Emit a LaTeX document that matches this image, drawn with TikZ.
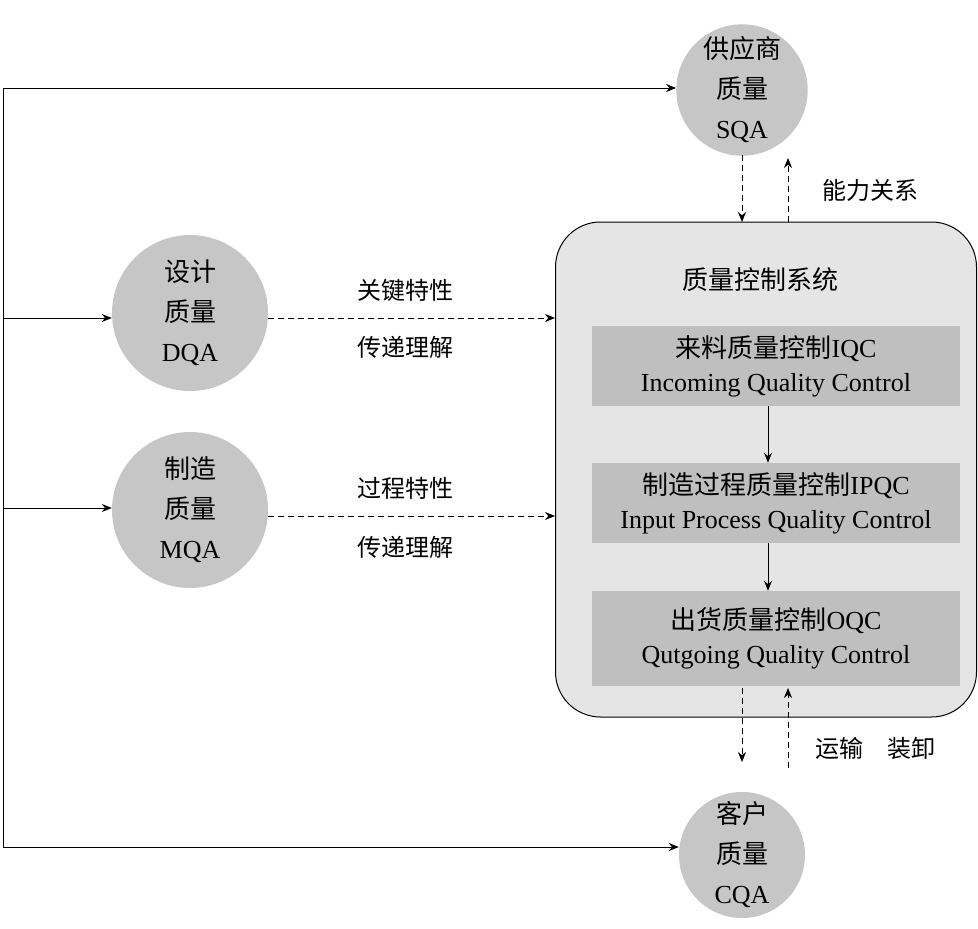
\documentclass[tikz,border=0pt]{standalone}
\usepackage{fontspec}
\setmainfont{Liberation Serif}
\newfontfamily\cjk{Noto Sans CJK SC}
\usetikzlibrary{arrows.meta}
\begin{document}
\begin{tikzpicture}[x=1pt,y=-1pt,
 circ/.style={circle,fill=gray!45,minimum size=126pt,inner sep=0pt,align=center,font=\fontsize{26}{40}\selectfont},
 bigc/.style={circ,minimum size=156pt},
 inbox/.style={fill=gray!50,minimum width=368pt,minimum height=80pt,inner sep=0pt,align=center,font=\fontsize{26}{34}\selectfont},
 lbl/.style={font=\cjk\fontsize{24}{30}\selectfont},
 arr/.style={-{Stealth[length=10pt,width=8pt]},line width=0.9pt},
 darr/.style={arr,dashed,dash pattern=on 6pt off 4pt}]
\useasboundingbox (0,0) rectangle (978,929);
\node[circ] (sqa) at (742,90) {{\cjk 供应商}\\{\cjk 质量}\\SQA};
\node[bigc] (dqa) at (190,313) {{\cjk 设计}\\{\cjk 质量}\\DQA};
\node[bigc] (mqa) at (190,510) {{\cjk 制造}\\{\cjk 质量}\\MQA};
\node[circ] (cqa) at (742,855) {{\cjk 客户}\\{\cjk 质量}\\CQA};
\node[draw,line width=1pt,fill=gray!20,rounded corners=45pt,minimum width=421pt,minimum height=495pt,inner sep=0pt] (sys) at (766,469.5) {};
\node[lbl,font=\cjk\fontsize{26}{30}\selectfont] (title) at (760,280) {质量控制系统};
\node[inbox] (b1) at (776,366) {{\cjk 来料质量控制}IQC\\Incoming Quality Control};
\node[inbox] (b2) at (776,503) {{\cjk 制造过程质量控制}IPQC\\Input Process Quality Control};
\node[inbox,minimum height=95pt] (b3) at (776,638.5) {{\cjk 出货质量控制}OQC\\Qutgoing Quality Control};
\draw[arr] (b1.south -| 768,0) -- (b2.north -| 768,0);
\draw[arr] (b2.south -| 768,0) -- (b3.north -| 768,0);
\coordinate (tl) at (3,88);
\coordinate (bl) at (3,847);
\draw[line width=0.9pt] (tl) -- (bl);
\draw[arr] (tl) -- (sqa.west |- tl);
\draw[arr] (3,318) -- (dqa.west |- 0,318);
\draw[arr] (3,508) -- (mqa.west |- 0,508);
\draw[arr] (bl) -- (cqa.west |- bl);
\draw[darr] (268,318) -- (sys.west |- 0,318);
\draw[darr] (268,516) -- (sys.west |- 0,516);
\node[lbl] (l1) at (405,290) {关键特性};
\node[lbl] (l2) at (405,347) {传递理解};
\node[lbl] (l3) at (405,488) {过程特性};
\node[lbl] (l4) at (405,547) {传递理解};
\draw[darr] (742,155) -- (742,222);
\draw[darr] (788,222) -- (788,158);
\node[lbl] (l5) at (870,190) {能力关系};
\draw[darr] (742,688) -- (742,762);
\draw[darr] (788,768) -- (788,688);
\node[lbl] (l6) at (875,748) {运输\quad 装卸};
\end{tikzpicture}
\end{document}
